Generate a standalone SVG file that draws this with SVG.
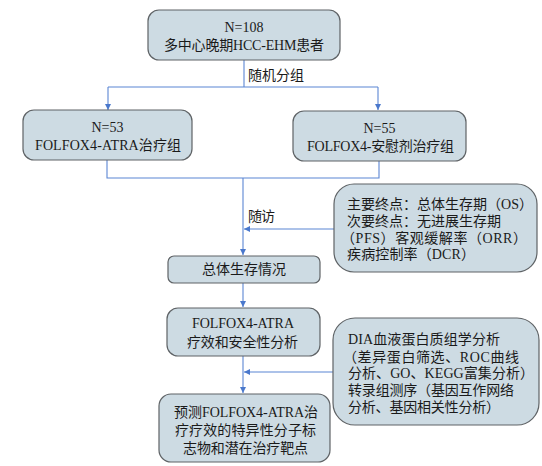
<svg xmlns="http://www.w3.org/2000/svg" width="542" height="466" viewBox="0 0 542 466">
<style>
.box{fill:#cddbe3;stroke:#5f6366;stroke-width:1.2}
.t{font-family:"Liberation Serif","Noto Sans CJK SC",serif;font-size:14px;fill:#1a1a1a}
.c{text-anchor:middle}
.ln{fill:none;stroke:#5b86d3;stroke-width:1.1}
</style>
<defs>
<marker id="ah" markerWidth="6" markerHeight="6" refX="6" refY="3" orient="auto" markerUnits="userSpaceOnUse">
<path d="M0,0 L6,3 L0,6 Z" fill="#4a78cc"/>
</marker>
</defs>
<rect width="542" height="466" fill="#ffffff"/>
<g id="connectors">
<path class="ln" d="M244,60 V87"/>
<path class="ln" d="M108,87 H378"/>
<path class="ln" d="M108,87 V110" marker-end="url(#ah)"/>
<path class="ln" d="M378,87 V110" marker-end="url(#ah)"/>
<path class="ln" d="M107,160 V178 H379 V161"/>
<path class="ln" d="M243,178 V255" marker-end="url(#ah)"/>
<path class="ln" d="M334,229 H244" marker-end="url(#ah)"/>
<path class="ln" d="M243,283 V307" marker-end="url(#ah)"/>
<path class="ln" d="M243,356 V393" marker-end="url(#ah)"/>
<path class="ln" d="M333,372 H244" marker-end="url(#ah)"/>
<text class="t" x="248" y="80" textLength="56" lengthAdjust="spacing">随机分组</text>
<text class="t" x="248" y="221" textLength="27" lengthAdjust="spacing">随访</text>
</g>
<g id="n-top">
<rect class="box" x="148" y="10" width="192" height="50" rx="11"/>
<text class="t c" x="244" y="32">N=108</text>
<text class="t" x="164" y="50" textLength="160" lengthAdjust="spacing">多中心晚期HCC-EHM患者</text>
</g>
<g id="n-left">
<rect class="box" x="23" y="110" width="169" height="50" rx="11"/>
<text class="t c" x="107.5" y="132">N=53</text>
<text class="t" x="35" y="150" textLength="146" lengthAdjust="spacing">FOLFOX4-ATRA治疗组</text>
</g>
<g id="n-right">
<rect class="box" x="293" y="111" width="173" height="50" rx="11"/>
<text class="t c" x="379.5" y="133">N=55</text>
<text class="t" x="307" y="151" textLength="147" lengthAdjust="spacing">FOLFOX4-安慰剂治疗组</text>
</g>
<g id="n-endpoints">
<rect class="box" x="334" y="184" width="203" height="88" rx="20"/>
<text class="t" x="347" y="209" textLength="186" lengthAdjust="spacing">主要终点：总体生存期（OS）</text>
<text class="t" x="347" y="226" textLength="154" lengthAdjust="spacing">次要终点：无进展生存期</text>
<text class="t" x="341" y="243" textLength="186" lengthAdjust="spacing">（PFS）客观缓解率（ORR）</text>
<text class="t" x="347" y="259" textLength="128" lengthAdjust="spacing">疾病控制率（DCR）</text>
</g>
<g id="n-os">
<rect class="box" x="168" y="256" width="152" height="27" rx="6"/>
<text class="t" x="202" y="274" textLength="84" lengthAdjust="spacing">总体生存情况</text>
</g>
<g id="n-eff">
<rect class="box" x="167" y="308" width="153" height="48" rx="11"/>
<text class="t" x="192" y="328" textLength="102" lengthAdjust="spacing">FOLFOX4-ATRA</text>
<text class="t" x="187" y="347" textLength="111" lengthAdjust="spacing">疗效和安全性分析</text>
</g>
<g id="n-dia">
<rect class="box" x="333" y="318" width="206" height="107" rx="22"/>
<text class="t" x="348" y="344" textLength="152" lengthAdjust="spacing">DIA血液蛋白质组学分析</text>
<text class="t" x="343" y="362" textLength="176" lengthAdjust="spacing">（差异蛋白筛选、ROC曲线</text>
<text class="t" x="348" y="378" textLength="186" lengthAdjust="spacing">分析、GO、KEGG富集分析）</text>
<text class="t" x="348" y="395" textLength="166" lengthAdjust="spacing">转录组测序（基因互作网络</text>
<text class="t" x="348" y="412" textLength="152" lengthAdjust="spacing">分析、基因相关性分析）</text>
</g>
<g id="n-pred">
<rect class="box" x="159" y="394" width="171" height="68" rx="12"/>
<text class="t" x="174" y="417" textLength="144" lengthAdjust="spacing">预测FOLFOX4-ATRA治</text>
<text class="t" x="175" y="435" textLength="141" lengthAdjust="spacing">疗疗效的特异性分子标</text>
<text class="t" x="183" y="453" textLength="125" lengthAdjust="spacing">志物和潜在治疗靶点</text>
</g>
</svg>
